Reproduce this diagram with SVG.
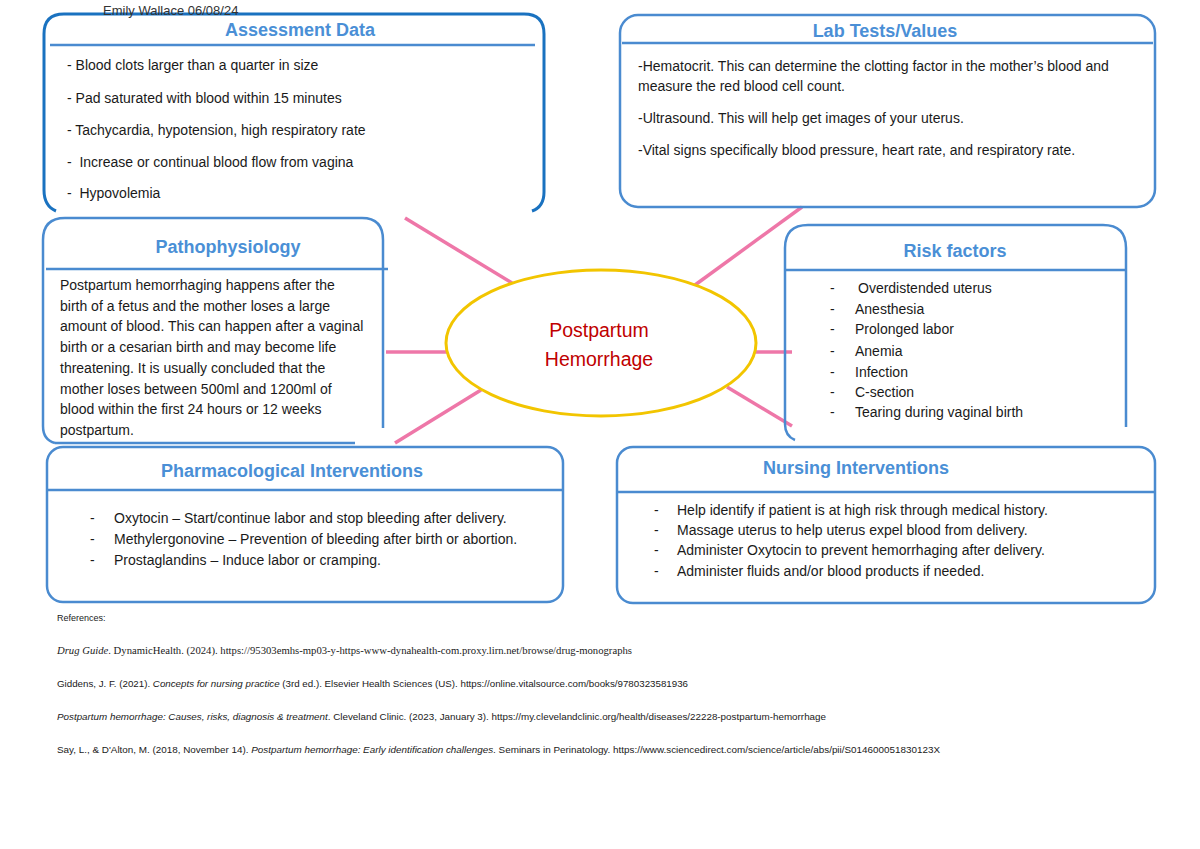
<svg xmlns="http://www.w3.org/2000/svg" width="1200" height="849" viewBox="0 0 1200 849">
<style>
.box{fill:none;stroke:#4a8bd0;stroke-width:2.5}
.boxd{fill:none;stroke:#1a72c0;stroke-width:3}
.hdr{stroke:#4a8bd0;stroke-width:2.5}
.title{font-family:"Liberation Sans",Arial,sans-serif;font-weight:bold;font-size:18px;fill:#4a8fd6;text-anchor:middle}
.body{font-family:"Liberation Sans",Arial,sans-serif;font-size:14px;fill:#1a1a1a}
.ref{font-family:"Liberation Sans",Arial,sans-serif;font-size:9px;fill:#1a1a1a}
.refs{font-family:"Liberation Serif","Times New Roman",serif;font-size:9.5px;fill:#1a1a1a}
.conn{stroke:#ee77a8;stroke-width:3.5;fill:none}
</style>
<rect width="1200" height="849" fill="#ffffff"/>

<g id="connectors">
<line class="conn" x1="405" y1="218" x2="512" y2="283"/>
<line class="conn" x1="802" y1="207" x2="695" y2="285"/>
<line class="conn" x1="386" y1="352" x2="447" y2="352"/>
<line class="conn" x1="755" y1="352" x2="792" y2="352"/>
<line class="conn" x1="395" y1="443" x2="481" y2="390"/>
<line class="conn" x1="727" y1="387" x2="792" y2="426"/>
</g>

<g id="center">
<ellipse cx="601" cy="343" rx="155" ry="73" fill="#ffffff" stroke="#f2c500" stroke-width="3"/>
<text x="599" y="337" font-family="'Liberation Sans',Arial,sans-serif" font-size="19.5" fill="#c00000" text-anchor="middle">Postpartum</text>
<text x="599" y="366" font-family="'Liberation Sans',Arial,sans-serif" font-size="19.5" fill="#c00000" text-anchor="middle">Hemorrhage</text>
</g>

<g id="assessment">
<path class="boxd" d="M56,211 Q44,206 44,190 L44,34 Q44,14 64,14 L524,14 Q544,14 544,34 L544,192 Q544,207 532,211"/>
<line class="hdr" x1="50" y1="45" x2="535" y2="45"/>
<text class="title" x="300" y="36">Assessment Data</text>
<text class="body" x="67" y="70">- Blood clots larger than a quarter in size</text>
<text class="body" x="67" y="103">- Pad saturated with blood within 15 minutes</text>
<text class="body" x="67" y="135">- Tachycardia, hypotension, high respiratory rate</text>
<text class="body" x="67" y="167" xml:space="preserve">-  Increase or continual blood flow from vagina</text>
<text class="body" x="67" y="198" xml:space="preserve">-  Hypovolemia</text>
</g>

<g id="author">
<text x="103" y="15" font-family="'Liberation Sans',Arial,sans-serif" font-size="13" fill="#333333">Emily Wallace 06/08/24</text>
</g>

<g id="lab">
<rect class="box" x="620" y="15" width="535" height="192" rx="18"/>
<line class="hdr" x1="622" y1="43" x2="1153" y2="43"/>
<text class="title" x="885" y="37">Lab Tests/Values</text>
<text class="body" x="638" y="71">-Hematocrit. This can determine the clotting factor in the mother’s blood and</text>
<text class="body" x="638" y="91">measure the red blood cell count.</text>
<text class="body" x="638" y="123">-Ultrasound. This will help get images of your uterus.</text>
<text class="body" x="638" y="155">-Vital signs specifically blood pressure, heart rate, and respiratory rate.</text>
</g>

<g id="pathophysiology">
<path class="box" d="M55,443 Q43,440 43,426 L43,240 Q43,218 65,218 L362,218 Q383,218 383,240 L383,428"/>
<line class="box" x1="55" y1="443" x2="355" y2="443"/>
<line class="hdr" x1="46" y1="269" x2="388" y2="269"/>
<text class="title" x="228" y="253">Pathophysiology</text>
<text class="body" x="60" y="290">Postpartum hemorrhaging happens after the</text>
<text class="body" x="60" y="311">birth of a fetus and the mother loses a large</text>
<text class="body" x="60" y="331">amount of blood. This can happen after a vaginal</text>
<text class="body" x="60" y="352">birth or a cesarian birth and may become life</text>
<text class="body" x="60" y="373">threatening. It is usually concluded that the</text>
<text class="body" x="60" y="394">mother loses between 500ml and 1200ml of</text>
<text class="body" x="60" y="414">blood within the first 24 hours or 12 weeks</text>
<text class="body" x="60" y="435">postpartum.</text>
</g>

<g id="risk">
<path class="box" d="M795,440 Q785,436 785,424 L785,248 Q785,225 808,225 L1103,225 Q1126,225 1126,248 L1126,427"/>
<line class="hdr" x1="785" y1="270" x2="1126" y2="270"/>
<text class="title" x="955" y="257">Risk factors</text>
<g class="body">
<text x="830" y="293">-</text><text x="858" y="293">Overdistended uterus</text>
<text x="830" y="314">-</text><text x="855" y="314">Anesthesia</text>
<text x="830" y="334">-</text><text x="855" y="334">Prolonged labor</text>
<text x="830" y="356">-</text><text x="855" y="356">Anemia</text>
<text x="830" y="377">-</text><text x="855" y="377">Infection</text>
<text x="830" y="397">-</text><text x="855" y="397">C-section</text>
<text x="830" y="417">-</text><text x="855" y="417">Tearing during vaginal birth</text>
</g>
</g>

<g id="pharmacological">
<rect class="box" x="47" y="447" width="516" height="155" rx="16"/>
<line class="hdr" x1="48" y1="490" x2="562" y2="490"/>
<text class="title" x="292" y="477">Pharmacological Interventions</text>
<g class="body">
<text x="90" y="523">-</text><text x="114" y="523">Oxytocin – Start/continue labor and stop bleeding after delivery.</text>
<text x="90" y="544">-</text><text x="114" y="544">Methylergonovine – Prevention of bleeding after birth or abortion.</text>
<text x="90" y="565">-</text><text x="114" y="565">Prostaglandins – Induce labor or cramping.</text>
</g>
</g>

<g id="nursing">
<rect class="box" x="617" y="447" width="538" height="156" rx="16"/>
<line class="hdr" x1="618" y1="492" x2="1154" y2="492"/>
<text class="title" x="856" y="474">Nursing Interventions</text>
<g class="body">
<text x="654" y="515">-</text><text x="677" y="515">Help identify if patient is at high risk through medical history.</text>
<text x="654" y="535">-</text><text x="677" y="535">Massage uterus to help uterus expel blood from delivery.</text>
<text x="654" y="555">-</text><text x="677" y="555">Administer Oxytocin to prevent hemorrhaging after delivery.</text>
<text x="654" y="576">-</text><text x="677" y="576">Administer fluids and/or blood products if needed.</text>
</g>
</g>

<g id="references">
<text class="ref" x="57" y="621">References:</text>
<text class="refs" x="57" y="654" textLength="575" lengthAdjust="spacingAndGlyphs"><tspan font-style="italic">Drug Guide</tspan>. DynamicHealth. (2024). https://95303emhs-mp03-y-https-www-dynahealth-com.proxy.lirn.net/browse/drug-monographs</text>
<text class="ref" x="57" y="687" textLength="631" lengthAdjust="spacingAndGlyphs">Giddens, J. F. (2021). <tspan font-style="italic">Concepts for nursing practice</tspan> (3rd ed.). Elsevier Health Sciences (US). https://online.vitalsource.com/books/9780323581936</text>
<text class="ref" x="57" y="720" textLength="769" lengthAdjust="spacingAndGlyphs"><tspan font-style="italic">Postpartum hemorrhage: Causes, risks, diagnosis &amp; treatment</tspan>. Cleveland Clinic. (2023, January 3). https://my.clevelandclinic.org/health/diseases/22228-postpartum-hemorrhage</text>
<text class="ref" x="57" y="753" textLength="883" lengthAdjust="spacingAndGlyphs">Say, L., &amp; D'Alton, M. (2018, November 14). <tspan font-style="italic">Postpartum hemorrhage: Early identification challenges</tspan>. Seminars in Perinatology. https://www.sciencedirect.com/science/article/abs/pii/S014600051830123X</text>
</g>
</svg>
